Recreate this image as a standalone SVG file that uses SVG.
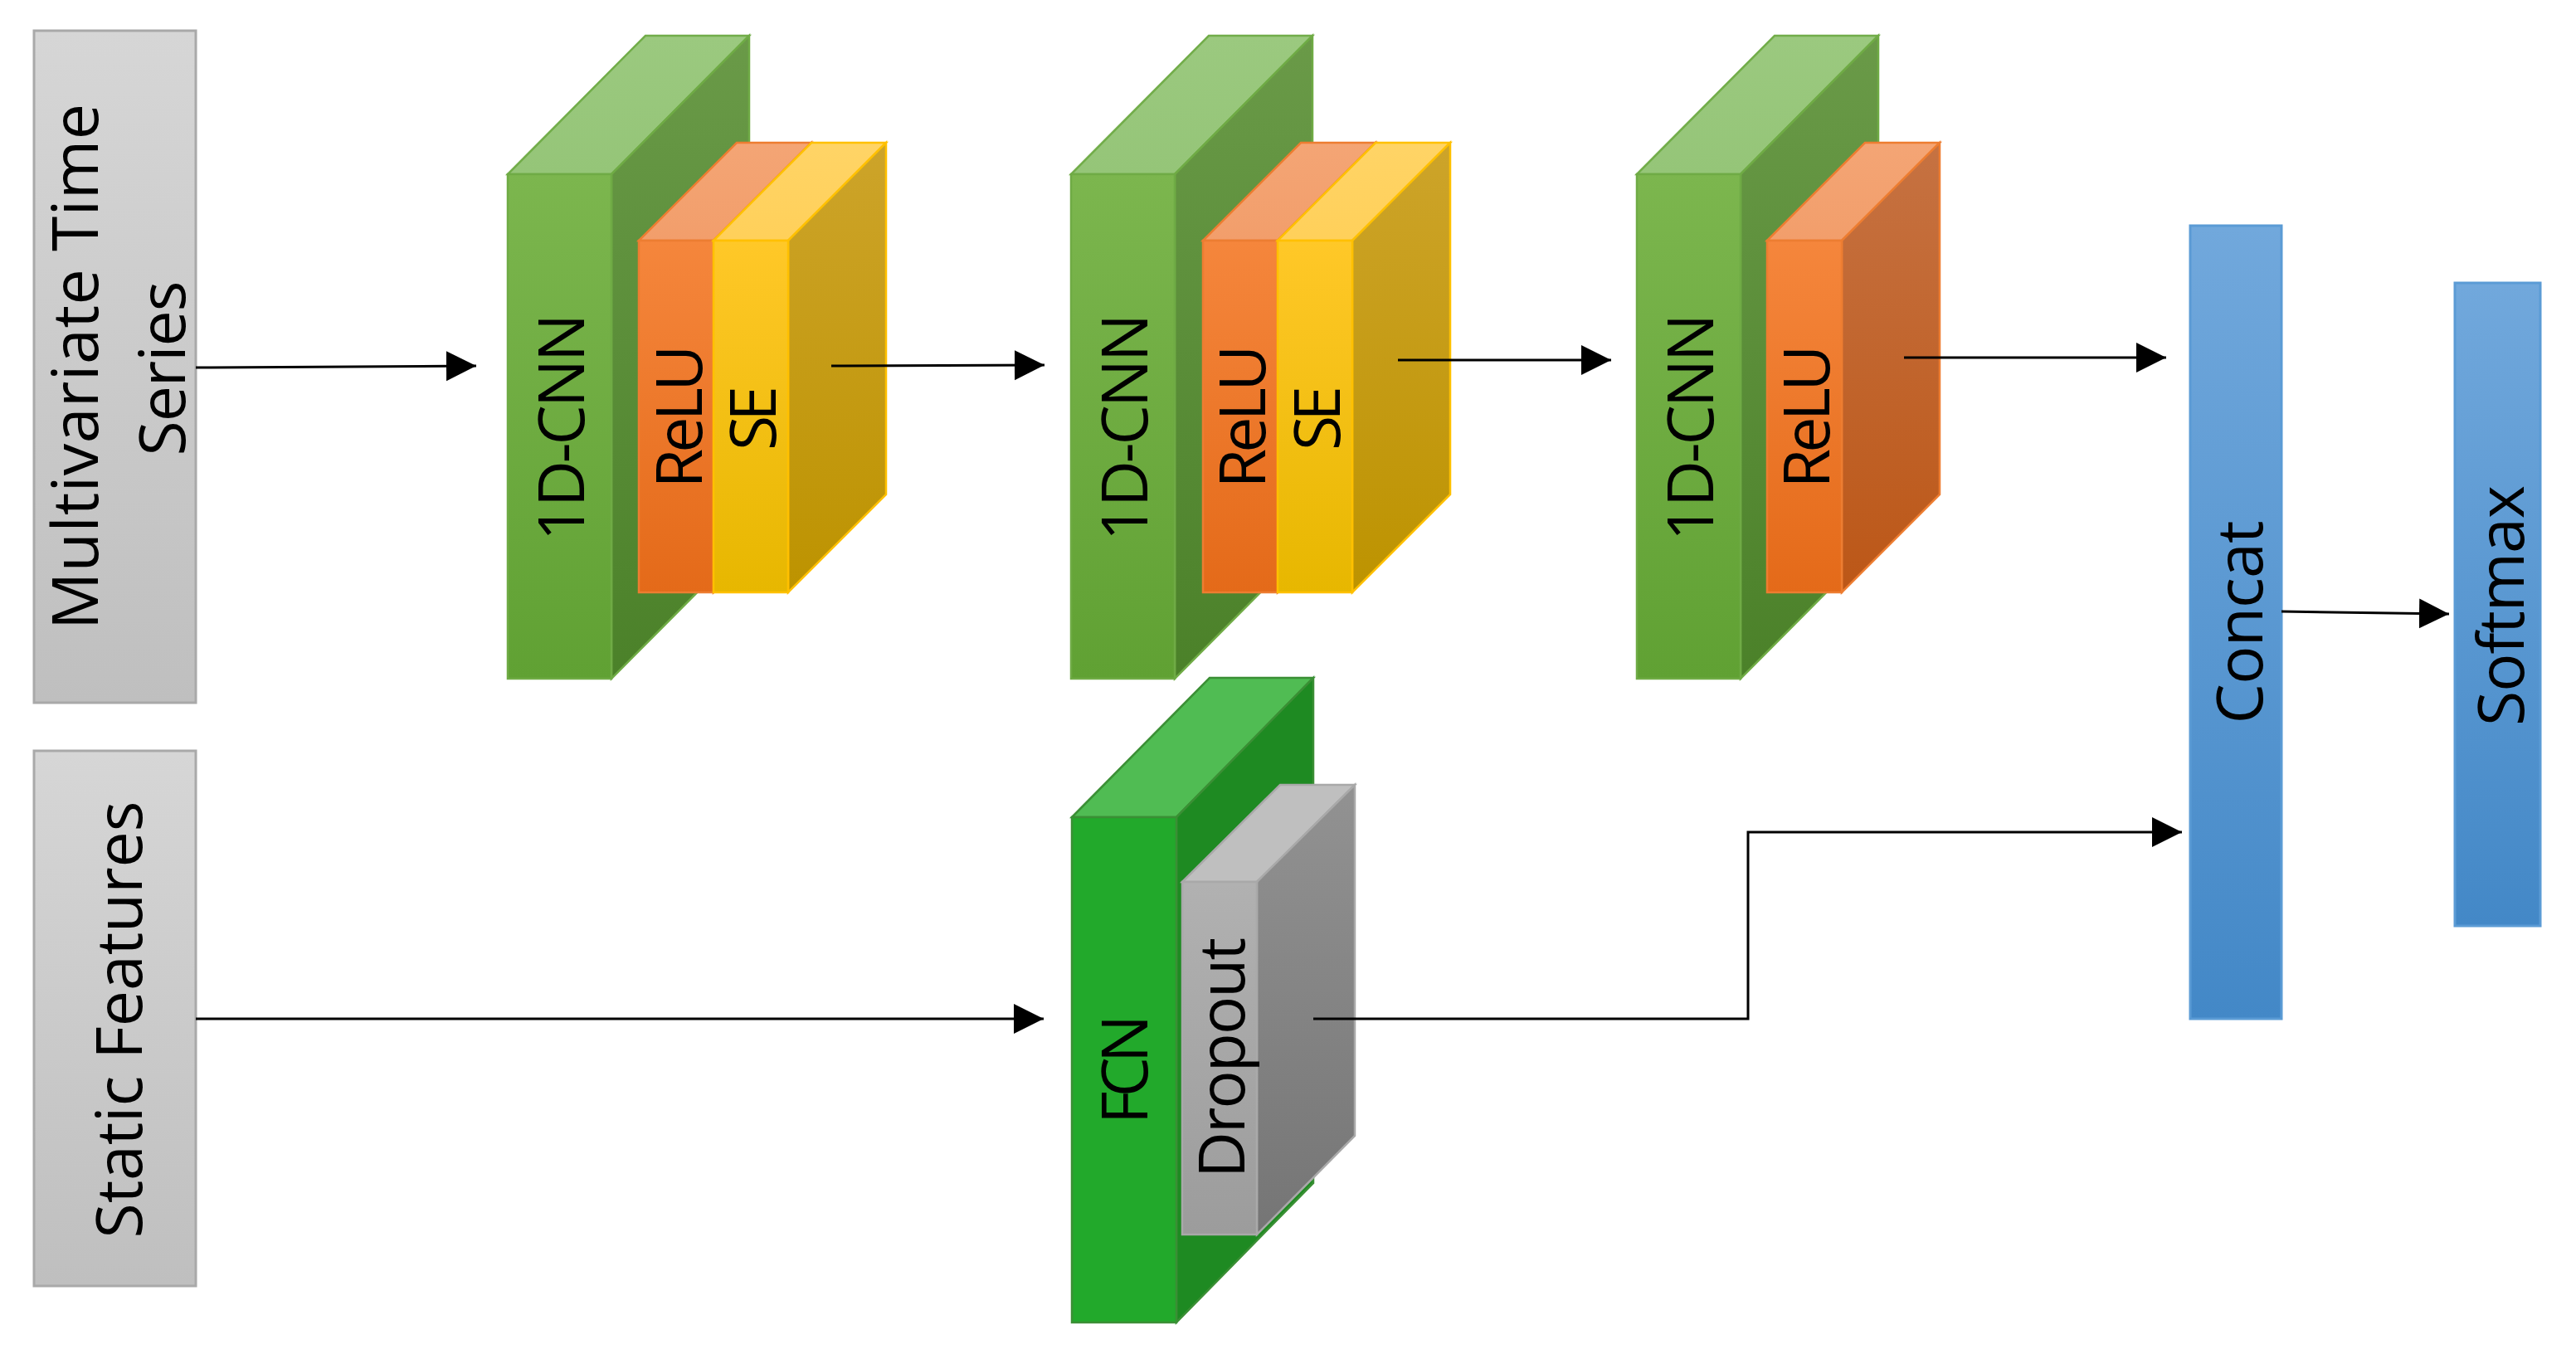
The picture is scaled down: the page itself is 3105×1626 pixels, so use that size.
<svg xmlns="http://www.w3.org/2000/svg" width="3105" height="1626" viewBox="0 0 3105 1626">
<defs>
<linearGradient id="gGray" x1="0" y1="0" x2="0" y2="1"><stop offset="0" stop-color="#d6d6d6"/><stop offset="1" stop-color="#bfbfbf"/></linearGradient>
<linearGradient id="gGreenF" x1="0" y1="0" x2="0" y2="1"><stop offset="0" stop-color="#7cb64e"/><stop offset="1" stop-color="#60a133"/></linearGradient>
<linearGradient id="gGreenT" x1="0" y1="0" x2="0" y2="1"><stop offset="0" stop-color="#9bc97f"/><stop offset="1" stop-color="#95c578"/></linearGradient>
<linearGradient id="gGreenS" x1="0" y1="0" x2="0" y2="1"><stop offset="0" stop-color="#6a9a48"/><stop offset="1" stop-color="#4b8129"/></linearGradient>
<linearGradient id="gOrF" x1="0" y1="0" x2="0" y2="1"><stop offset="0" stop-color="#f5863c"/><stop offset="1" stop-color="#e46a19"/></linearGradient>
<linearGradient id="gOrT" x1="0" y1="0" x2="0" y2="1"><stop offset="0" stop-color="#f4a575"/><stop offset="1" stop-color="#f29e6b"/></linearGradient>
<linearGradient id="gOrS" x1="0" y1="0" x2="0" y2="1"><stop offset="0" stop-color="#c67242"/><stop offset="1" stop-color="#bc5717"/></linearGradient>
<linearGradient id="gYeF" x1="0" y1="0" x2="0" y2="1"><stop offset="0" stop-color="#ffc828"/><stop offset="1" stop-color="#e7b700"/></linearGradient>
<linearGradient id="gYeT" x1="0" y1="0" x2="0" y2="1"><stop offset="0" stop-color="#ffd466"/><stop offset="1" stop-color="#ffd05a"/></linearGradient>
<linearGradient id="gYeS" x1="0" y1="0" x2="0" y2="1"><stop offset="0" stop-color="#cda42a"/><stop offset="1" stop-color="#bd9300"/></linearGradient>
<linearGradient id="gDrF" x1="0" y1="0" x2="0" y2="1"><stop offset="0" stop-color="#b1b1b1"/><stop offset="1" stop-color="#9c9c9c"/></linearGradient>
<linearGradient id="gDrS" x1="0" y1="0" x2="0" y2="1"><stop offset="0" stop-color="#929292"/><stop offset="1" stop-color="#757575"/></linearGradient>
<linearGradient id="gBlue" x1="0" y1="0" x2="0" y2="1"><stop offset="0" stop-color="#71a8dc"/><stop offset="1" stop-color="#4388c7"/></linearGradient>
<marker id="arr" markerUnits="userSpaceOnUse" markerWidth="38" markerHeight="38" refX="36" refY="18" orient="auto" viewBox="0 0 38 38">
<path d="M0,0 L36,18 L0,36 z" fill="#000"/>
</marker>
</defs>
<style>
.lbl{font-family:"Open Sans","Noto Sans","DejaVu Sans",sans-serif;font-size:77px;fill:#000;text-anchor:middle}
.in{fill:url(#gGray);stroke:#a9a9a9;stroke-width:3}
.gf{fill:url(#gGreenF);stroke:#6fab45;stroke-width:2.5}
.gt{fill:url(#gGreenT);stroke:#72ad4a;stroke-width:2.5}
.gs{fill:url(#gGreenS);stroke:#6fab45;stroke-width:2.5}
.of{fill:url(#gOrF);stroke:#ed7d31;stroke-width:2.5}
.ot{fill:url(#gOrT);stroke:#ed7d31;stroke-width:2.5}
.os{fill:url(#gOrS);stroke:#ed7d31;stroke-width:2.5}
.yf{fill:url(#gYeF);stroke:#ffc000;stroke-width:2.5}
.yt{fill:url(#gYeT);stroke:#ffc000;stroke-width:2.5}
.ys{fill:url(#gYeS);stroke:#ffc000;stroke-width:2.5}
.ff{fill:#22a92b;stroke:#3b8f35;stroke-width:2.5}
.ft{fill:#50bc53;stroke:#3b8f35;stroke-width:2.5}
.fs{fill:#1e8a22;stroke:#3b8f35;stroke-width:2.5}
.df{fill:url(#gDrF);stroke:#a9a9a9;stroke-width:2.5}
.dt{fill:#bfbfbf;stroke:#a9a9a9;stroke-width:2.5}
.ds{fill:url(#gDrS);stroke:#a9a9a9;stroke-width:2.5}
.bl{fill:url(#gBlue);stroke:#5b9bd5;stroke-width:3}
.cn{fill:none;stroke:#000;stroke-width:3;marker-end:url(#arr)}
</style>
<rect width="3105" height="1626" fill="#fff"/>

<g id="mts">
<rect class="in" x="41" y="37" width="195" height="810"/>
<text class="lbl" transform="translate(118,442) rotate(-90)" textLength="634" x="0" y="0">Multivariate Time</text>
<text class="lbl" transform="translate(223,444) rotate(-90)" textLength="211" x="0" y="0">Series</text>
</g>

<g id="static">
<rect class="in" x="41" y="905" width="195" height="645"/>
<text class="lbl" transform="translate(171,1229) rotate(-90)" textLength="527">Static Features</text>
</g>

<g id="cnn1">
<polygon class="gt" points="612,210 778,43 903,43 737,210"/>
<polygon class="gs" points="737,210 903,43 903,651 737,818"/>
<rect class="gf" x="612" y="210" width="125" height="608"/>
<text class="lbl" transform="translate(704,515) rotate(-90)" textLength="274">1D-CNN</text>
</g>
<g id="relu1">
<polygon class="ot" points="770,290 888,172 978,172 860,290"/>
<polygon class="os" points="860,290 978,172 978,596 860,714"/>
<rect class="of" x="770" y="290" width="90" height="424"/>
<text class="lbl" transform="translate(846,502) rotate(-90)" textLength="173">ReLU</text>
</g>
<g id="se1">
<polygon class="yt" points="860,290 978,172 1068,172 950,290"/>
<polygon class="ys" points="950,290 1068,172 1068,596 950,714"/>
<rect class="yf" x="860" y="290" width="90" height="424"/>
<text class="lbl" transform="translate(935,504) rotate(-90)" textLength="78">SE</text>
</g>

<g id="cnn2">
<polygon class="gt" points="1291,210 1457,43 1582,43 1416,210"/>
<polygon class="gs" points="1416,210 1582,43 1582,651 1416,818"/>
<rect class="gf" x="1291" y="210" width="125" height="608"/>
<text class="lbl" transform="translate(1383,515) rotate(-90)" textLength="274">1D-CNN</text>
</g>
<g id="relu2">
<polygon class="ot" points="1450,290 1568,172 1658,172 1540,290"/>
<polygon class="os" points="1540,290 1658,172 1658,596 1540,714"/>
<rect class="of" x="1450" y="290" width="90" height="424"/>
<text class="lbl" transform="translate(1525,502) rotate(-90)" textLength="173">ReLU</text>
</g>
<g id="se2">
<polygon class="yt" points="1540,290 1658,172 1748,172 1630,290"/>
<polygon class="ys" points="1630,290 1748,172 1748,596 1630,714"/>
<rect class="yf" x="1540" y="290" width="90" height="424"/>
<text class="lbl" transform="translate(1615,504) rotate(-90)" textLength="78">SE</text>
</g>

<g id="cnn3">
<polygon class="gt" points="1973,210 2139,43 2264,43 2098,210"/>
<polygon class="gs" points="2098,210 2264,43 2264,651 2098,818"/>
<rect class="gf" x="1973" y="210" width="125" height="608"/>
<text class="lbl" transform="translate(2065,515) rotate(-90)" textLength="274">1D-CNN</text>
</g>
<g id="relu3">
<polygon class="ot" points="2130,290 2248,172 2338,172 2220,290"/>
<polygon class="os" points="2220,290 2338,172 2338,596 2220,714"/>
<rect class="of" x="2130" y="290" width="90" height="424"/>
<text class="lbl" transform="translate(2205,502) rotate(-90)" textLength="173">ReLU</text>
</g>

<g id="fcn">
<polygon class="ft" points="1292,985 1458,817 1583,817 1418,985"/>
<polygon class="fs" points="1418,985 1583,817 1583,1426 1418,1594"/>
<rect class="ff" x="1292" y="985" width="126" height="609"/>
<text class="lbl" transform="translate(1383,1289) rotate(-90)" textLength="132">FCN</text>
</g>
<g id="dropout">
<polygon class="dt" points="1425,1063 1543,946 1633,946 1515,1063"/>
<polygon class="ds" points="1515,1063 1633,946 1633,1369 1515,1488"/>
<rect class="df" x="1425" y="1063" width="90" height="425"/>
<text class="lbl" transform="translate(1500,1275) rotate(-90)" textLength="290">Dropout</text>
</g>

<g id="concat">
<rect class="bl" x="2640" y="272" width="110" height="956"/>
<text class="lbl" transform="translate(2727,750) rotate(-90)" textLength="245">Concat</text>
</g>
<g id="softmax">
<rect class="bl" x="2959" y="341" width="103" height="775"/>
<text class="lbl" transform="translate(3042,730) rotate(-90)" textLength="290">Softmax</text>
</g>

<g id="connectors">
<path class="cn" d="M236,443 L574,441"/>
<path class="cn" d="M1002,441 L1259,440"/>
<path class="cn" d="M1685,434 L1942,434"/>
<path class="cn" d="M2295,431 L2611,431"/>
<path class="cn" d="M2750,737 L2952,740"/>
<path class="cn" d="M236,1228 L1258,1228"/>
<path class="cn" d="M1583,1228 L2107,1228 L2107,1003 L2630,1003"/>
</g>
</svg>
